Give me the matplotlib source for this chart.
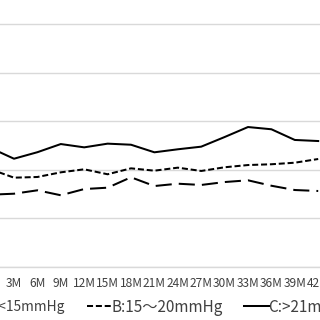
import matplotlib
matplotlib.use("Agg")
import matplotlib.pyplot as plt
import numpy as np

plt.rcParams['font.family'] = ['Noto Sans CJK JP', 'DejaVu Sans']

# first point is the baseline, its tick label falls outside the crop
months = ["0M", "3M", "6M", "9M", "12M", "15M", "18M", "21M", "24M",
          "27M", "30M", "33M", "36M", "39M", "42M"]
group_a = [7.44, 7.54, 7.89, 7.38, 8.02, 8.16, 9.23, 8.33, 8.57,
           8.44, 8.74, 8.92, 8.36, 7.92, 7.82]
group_b = [10.05, 9.19, 9.26, 9.74, 10.05, 9.54, 10.15, 9.91, 10.22,
           9.88, 10.26, 10.49, 10.57, 10.73, 11.11]
group_c = [12.24, 11.14, 11.81, 12.65, 12.31, 12.69, 12.58, 11.80, 12.11,
           12.38, 13.37, 14.40, 14.17, 13.07, 12.96]
labels = ["A:<15mmHg", "B:15～20mmHg", "C:>21mmHg"]
y_ticks = [0, 5, 10, 15, 20, 25]

fig = plt.figure(figsize=(3.2, 3.2), dpi=100)
# the picture is a crop of a wider chart, so the axes run past the edges
ax = fig.add_axes([0, 53 / 320, 1, 267 / 320])

x = np.arange(len(months))
lw = 1.45
la, = ax.plot(x, group_a, color='black', lw=lw, dashes=(8, 3.5))
lb, = ax.plot(x, group_b, color='black', lw=lw, dashes=(3, 1.4))
lc, = ax.plot(x, group_c, color='black', lw=lw)

ax.set_xlim(1 - 14 / 23.4, 1 + 306 / 23.4)
ax.set_ylim(0, 267 / 9.72)
ax.set_yticks(y_ticks)
ax.set_xticks(x[1:])
ax.set_xticklabels(months[1:], fontsize=8.6, color='#404040')
ax.tick_params(axis='x', length=0, pad=7)
ax.tick_params(axis='y', length=0, labelleft=False)
ax.grid(axis='y', color='#d9d9d9', lw=1)
ax.set_axisbelow(True)
for s in ['top', 'left', 'right']:
    ax.spines[s].set_visible(False)
ax.spines['bottom'].set_color('#d9d9d9')
ax.spines['bottom'].set_linewidth(1)

leg = fig.legend([la, lb, lc], labels, ncol=3, loc='center',
                 bbox_to_anchor=(0.4975, 1 - 307 / 320), frameon=False,
                 fontsize=11, handlelength=1.6, handletextpad=0.0,
                 columnspacing=1.4, labelcolor='#404040')
# the reference font sets "A:<15mmHg" a little narrower
leg.get_texts()[0].set_fontsize(9.9)

fig.savefig("out.png", dpi=100)
